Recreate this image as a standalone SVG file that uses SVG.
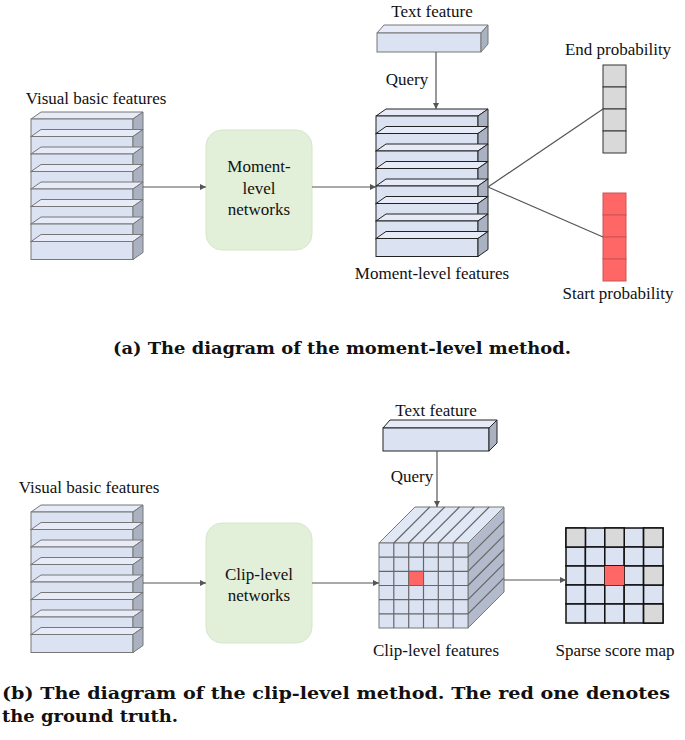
<svg xmlns="http://www.w3.org/2000/svg" width="685" height="740" viewBox="0 0 685 740">
<style>
.t{font-family:'Liberation Serif','Tinos','Times New Roman','DejaVu Serif',serif;font-size:17px;fill:#111;text-anchor:middle}
.c{font-family:'DejaVu Serif',serif;font-size:16px;fill:#111;font-weight:bold}
.f{fill:#dbe3f3;stroke:#777;stroke-width:1}
.tp{fill:#e6ebf7;stroke:#777;stroke-width:1}
.sd{fill:#aab2c2;stroke:#777;stroke-width:1}
.fk{fill:#dbe3f3;stroke:#222;stroke-width:1}
.tk{fill:#e6ebf7;stroke:#222;stroke-width:1}
.sk{fill:#aab2c2;stroke:#222;stroke-width:1}
.box{fill:#e2efd9;stroke:#d5e6ca;stroke-width:1}
.ln{stroke:#555;stroke-width:1.2;fill:none}
</style>
<defs>
<marker id="ar" viewBox="0 0 6 6" refX="6" refY="3" markerWidth="5" markerHeight="5" orient="auto"><path d="M0,0L6,3L0,6z" fill="#555"/></marker>
<g id="slab"><polygon class="tp" points="0,7 10,0 112,0 102,7"/><rect class="f" x="0" y="7" width="102" height="18"/><polygon class="sd" points="102,7 112,0 112,18 102,25"/></g>
<g id="slabk"><polygon class="tk" points="0,7 10,0 112,0 102,7"/><rect class="fk" x="0" y="7" width="102" height="18"/><polygon class="sk" points="102,7 112,0 112,18 102,25"/></g>
</defs>

<g id="visual-a">
<text class="t" x="96" y="104">Visual basic features</text>
<use href="#slab" x="31" y="112"/><use href="#slab" x="31" y="129.5"/><use href="#slab" x="31" y="147"/><use href="#slab" x="31" y="164.5"/><use href="#slab" x="31" y="182"/><use href="#slab" x="31" y="199.5"/><use href="#slab" x="31" y="217"/><use href="#slab" x="31" y="234.5"/>
</g>
<g id="moment-net">
<rect class="box" x="206" y="130" width="106" height="120" rx="16"/>
<text class="t" x="259" y="172">Moment-</text><text class="t" x="259" y="194">level</text><text class="t" x="259" y="215">networks</text>
</g>
<g id="text-a">
<text class="t" x="432" y="17">Text feature</text>
<polygon class="tp" points="377,33 384,25 488,25 481,33"/><rect class="f" x="377" y="33" width="104" height="19"/><polygon class="sd" points="481,33 488,25 488,44 481,52"/>
</g>
<g id="moment-feat">
<use href="#slabk" x="376" y="109"/><use href="#slabk" x="376" y="126.5"/><use href="#slabk" x="376" y="144"/><use href="#slabk" x="376" y="161.5"/><use href="#slabk" x="376" y="179"/><use href="#slabk" x="376" y="196.5"/><use href="#slabk" x="376" y="214"/><use href="#slabk" x="376" y="231.5"/>
<text class="t" x="432" y="279">Moment-level features</text>
</g>
<g id="end-prob">
<text class="t" x="618" y="55">End probability</text>
<g fill="#d9d9d9" stroke="#333"><rect x="603" y="65" width="23" height="22"/><rect x="603" y="87" width="23" height="22"/><rect x="603" y="109" width="23" height="22"/><rect x="603" y="131" width="23" height="22"/></g>
</g>
<g id="start-prob">
<g fill="#ff6666" stroke="#c55"><rect x="603" y="193" width="23" height="22"/><rect x="603" y="215" width="23" height="22"/><rect x="603" y="237" width="23" height="22"/><rect x="603" y="259" width="23" height="22"/></g>
<text class="t" x="618" y="299">Start probability</text>
</g>
<text class="c" x="342" y="354" text-anchor="middle" textLength="458" lengthAdjust="spacingAndGlyphs">(a) The diagram of the moment-level method.</text>

<g id="visual-b">
<text class="t" x="89" y="493">Visual basic features</text>
<use href="#slab" x="31" y="505"/><use href="#slab" x="31" y="522.5"/><use href="#slab" x="31" y="540"/><use href="#slab" x="31" y="557.5"/><use href="#slab" x="31" y="575"/><use href="#slab" x="31" y="592.5"/><use href="#slab" x="31" y="610"/><use href="#slab" x="31" y="627.5"/>
</g>
<g id="clip-net">
<rect class="box" x="206" y="523" width="106" height="120" rx="16"/>
<text class="t" x="259" y="580">Clip-level</text><text class="t" x="259" y="601">networks</text>
</g>
<g id="text-b">
<text class="t" x="436" y="416">Text feature</text>
<polygon class="tk" points="383,428 390,420 497,420 489,428"/><rect class="fk" x="383" y="428" width="106" height="23"/><polygon class="sk" points="489,428 497,420 497,443 489,451"/>
</g>
<g id="clip-feat">
<polygon points="379,543 415,507 504,507 468,543" fill="#e0e7f5" stroke="#777"/>
<polygon points="468,543 504,507 504,592 468,628" fill="#b2bacb" stroke="#777"/>
<rect x="379" y="543" width="89" height="85" fill="#dbe3f3" stroke="#777"/>
<g stroke="#666" stroke-width="1.2">
<line x1="393.8" y1="543" x2="429.8" y2="507"/><line x1="408.7" y1="543" x2="444.7" y2="507"/><line x1="423.5" y1="543" x2="459.5" y2="507"/><line x1="438.3" y1="543" x2="474.3" y2="507"/><line x1="453.2" y1="543" x2="489.2" y2="507"/>
<line x1="468" y1="557.2" x2="504" y2="521.2"/><line x1="468" y1="571.3" x2="504" y2="535.3"/><line x1="468" y1="585.5" x2="504" y2="549.5"/><line x1="468" y1="599.7" x2="504" y2="563.7"/><line x1="468" y1="613.8" x2="504" y2="577.8"/>
<line x1="393.8" y1="543" x2="393.8" y2="628"/><line x1="408.7" y1="543" x2="408.7" y2="628"/><line x1="423.5" y1="543" x2="423.5" y2="628"/><line x1="438.3" y1="543" x2="438.3" y2="628"/><line x1="453.2" y1="543" x2="453.2" y2="628"/>
<line x1="379" y1="557.2" x2="468" y2="557.2"/><line x1="379" y1="571.3" x2="468" y2="571.3"/><line x1="379" y1="585.5" x2="468" y2="585.5"/><line x1="379" y1="599.7" x2="468" y2="599.7"/><line x1="379" y1="613.8" x2="468" y2="613.8"/>
</g>
<rect x="408.7" y="571.3" width="14.8" height="14.2" fill="#ff6666" stroke="#666"/>
<text class="t" x="436" y="656">Clip-level features</text>
</g>
<g id="score-map">
<g stroke="#111" stroke-width="1.5" fill="#dbe3f3">
<rect x="566" y="528" width="19.4" height="19"/><rect x="585.4" y="528" width="19.4" height="19"/><rect x="604.8" y="528" width="19.4" height="19"/><rect x="624.2" y="528" width="19.4" height="19"/><rect x="643.6" y="528" width="19.4" height="19"/>
<rect x="566" y="547" width="19.4" height="19"/><rect x="585.4" y="547" width="19.4" height="19"/><rect x="604.8" y="547" width="19.4" height="19"/><rect x="624.2" y="547" width="19.4" height="19"/><rect x="643.6" y="547" width="19.4" height="19"/>
<rect x="566" y="566" width="19.4" height="19"/><rect x="585.4" y="566" width="19.4" height="19"/><rect x="604.8" y="566" width="19.4" height="19"/><rect x="624.2" y="566" width="19.4" height="19"/><rect x="643.6" y="566" width="19.4" height="19"/>
<rect x="566" y="585" width="19.4" height="19"/><rect x="585.4" y="585" width="19.4" height="19"/><rect x="604.8" y="585" width="19.4" height="19"/><rect x="624.2" y="585" width="19.4" height="19"/><rect x="643.6" y="585" width="19.4" height="19"/>
<rect x="566" y="604" width="19.4" height="19"/><rect x="585.4" y="604" width="19.4" height="19"/><rect x="604.8" y="604" width="19.4" height="19"/><rect x="624.2" y="604" width="19.4" height="19"/><rect x="643.6" y="604" width="19.4" height="19"/>
</g>
<g stroke="#111" stroke-width="1.5" fill="#d9d9d9">
<rect x="566" y="528" width="19.4" height="19"/><rect x="604.8" y="528" width="19.4" height="19"/><rect x="643.6" y="528" width="19.4" height="19"/><rect x="643.6" y="566" width="19.4" height="19"/><rect x="643.6" y="604" width="19.4" height="19"/>
</g>
<rect x="604.8" y="566" width="19.4" height="19" fill="#ff6666"/>
<text class="t" x="615" y="656">Sparse score map</text>
</g>
<text class="c" x="2" y="699" textLength="668" lengthAdjust="spacingAndGlyphs">(b) The diagram of the clip-level method. The red one denotes</text>
<text class="c" x="2" y="722" textLength="176" lengthAdjust="spacingAndGlyphs">the ground truth.</text>

<g id="connectors">
<line class="ln" x1="143" y1="187" x2="206" y2="187" marker-end="url(#ar)"/>
<line class="ln" x1="312" y1="187" x2="376" y2="187" marker-end="url(#ar)"/>
<line class="ln" x1="436" y1="52" x2="436" y2="109" marker-end="url(#ar)"/>
<line class="ln" x1="488" y1="187" x2="603" y2="109"/>
<line class="ln" x1="488" y1="187" x2="603" y2="237"/>
<text class="t" x="407" y="85">Query</text>
<line class="ln" x1="143" y1="583" x2="206" y2="583" marker-end="url(#ar)"/>
<line class="ln" x1="312" y1="583" x2="379" y2="583" marker-end="url(#ar)"/>
<line class="ln" x1="437" y1="451" x2="437" y2="507" marker-end="url(#ar)"/>
<line class="ln" x1="504" y1="580" x2="566" y2="580" marker-end="url(#ar)"/>
<text class="t" x="412" y="482">Query</text>
</g>
</svg>
